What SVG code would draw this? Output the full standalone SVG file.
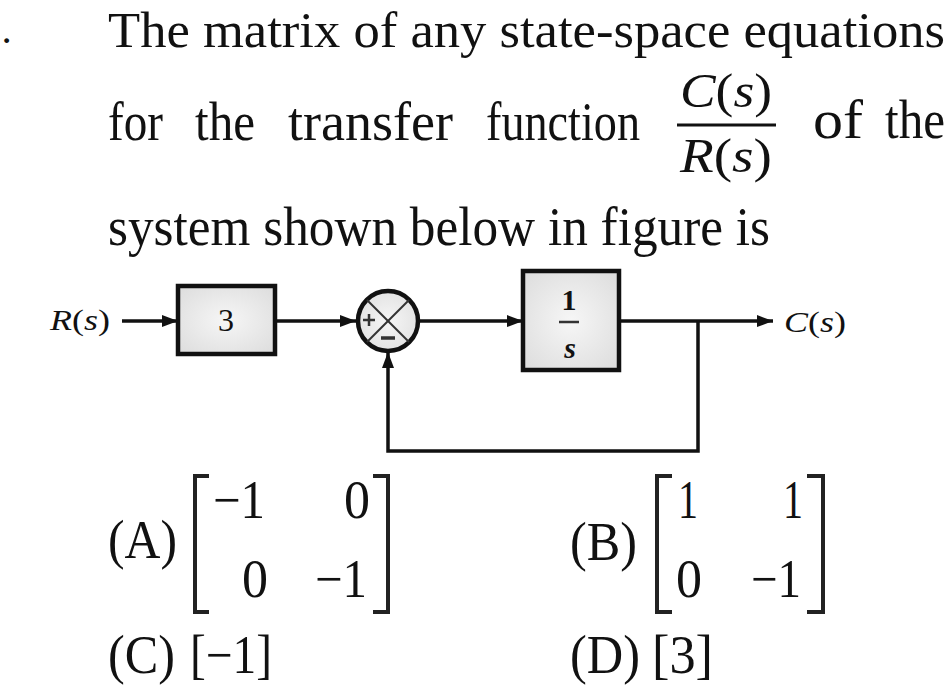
<svg xmlns="http://www.w3.org/2000/svg" width="952" height="688" viewBox="0 0 952 688">
<style>
.t{font-family:"Liberation Serif","Times New Roman",serif;fill:#111}
.q{font-size:54px}
.lbl{font-size:30px}
.it{font-style:italic}
.box{fill:url(#g);stroke:#111;stroke-width:4.5}
.ln{fill:none;stroke:#111;stroke-width:3.5}
.br{fill:none;stroke:#222;stroke-width:4}
</style>
<defs>
<radialGradient id="g" cx="0.5" cy="0.5" r="0.7">
<stop offset="0" stop-color="#f6f6f6"/>
<stop offset="1" stop-color="#dcdcdc"/>
</radialGradient>
<marker id="ah" viewBox="0 0 16 12" refX="16" refY="6" markerWidth="16" markerHeight="12" markerUnits="userSpaceOnUse" orient="auto">
<path d="M0,0 L16,6 L0,12 Z" fill="#111"/>
</marker>
</defs>
<rect width="952" height="688" fill="#fff"/>

<g id="question">
<text class="t" x="4" y="43" font-size="30" font-weight="bold" font-style="italic">.</text>
<text class="t" x="108" y="47" font-size="51" textLength="837" lengthAdjust="spacingAndGlyphs">The matrix of any state-space equations</text>
<text class="t q" x="108" y="140" textLength="55" lengthAdjust="spacingAndGlyphs">for</text>
<text class="t q" x="195" y="140" textLength="60" lengthAdjust="spacingAndGlyphs">the</text>
<text class="t q" x="288" y="140" textLength="165" lengthAdjust="spacingAndGlyphs">transfer</text>
<text class="t q" x="486" y="140" textLength="154" lengthAdjust="spacingAndGlyphs">function</text>
<text class="t" x="680" y="107" font-size="48" textLength="92" lengthAdjust="spacingAndGlyphs"><tspan class="it">C</tspan>(<tspan class="it">s</tspan>)</text>
<line x1="677" y1="125" x2="776" y2="125" stroke="#111" stroke-width="3"/>
<text class="t" x="680" y="172" font-size="48" textLength="92" lengthAdjust="spacingAndGlyphs"><tspan class="it">R</tspan>(<tspan class="it">s</tspan>)</text>
<text class="t q" x="813" y="138" textLength="50" lengthAdjust="spacingAndGlyphs">of</text>
<text class="t q" x="885" y="138" textLength="60" lengthAdjust="spacingAndGlyphs">the</text>
<text class="t q" x="108" y="245" textLength="662" lengthAdjust="spacingAndGlyphs">system shown below in figure is</text>
</g>

<g id="connectors">
<line class="ln" x1="122" y1="321" x2="178" y2="321" marker-end="url(#ah)"/>
<line class="ln" x1="275" y1="321" x2="356" y2="321" marker-end="url(#ah)"/>
<line class="ln" x1="420" y1="321" x2="523" y2="321" marker-end="url(#ah)"/>
<line class="ln" x1="619" y1="321" x2="773" y2="321" marker-end="url(#ah)"/>
<polyline class="ln" points="698,321 698,451 388,451 388,352" marker-end="url(#ah)"/>
</g>

<g id="input">
<text class="t lbl" x="50" y="330" textLength="60" lengthAdjust="spacingAndGlyphs"><tspan class="it">R</tspan>(<tspan class="it">s</tspan>)</text>
</g>

<g id="gain">
<rect class="box" x="178" y="286" width="97" height="68"/>
<text class="t" x="226" y="331" font-size="32" text-anchor="middle">3</text>
</g>

<g id="sum">
<circle cx="388" cy="321" r="30" fill="url(#g)" stroke="#111" stroke-width="4.5"/>
<line x1="367" y1="300" x2="409" y2="342" stroke="#333" stroke-width="2"/>
<line x1="409" y1="300" x2="367" y2="342" stroke="#333" stroke-width="2"/>
<line x1="363" y1="320" x2="375" y2="320" stroke="#333" stroke-width="2.5"/>
<line x1="369" y1="314" x2="369" y2="326" stroke="#333" stroke-width="2.5"/>
<line x1="381" y1="338" x2="395" y2="338" stroke="#333" stroke-width="3.5"/>
</g>

<g id="integrator">
<rect class="box" x="523" y="271" width="96" height="99"/>
<text class="t" x="569" y="310" font-size="30" font-weight="bold" text-anchor="middle">1</text>
<line x1="559" y1="322" x2="579" y2="322" stroke="#333" stroke-width="2.5"/>
<text class="t it" x="570" y="358" font-size="30" font-weight="bold" text-anchor="middle">s</text>
</g>

<g id="output">
<text class="t lbl" x="784" y="332" textLength="62" lengthAdjust="spacingAndGlyphs"><tspan class="it">C</tspan>(<tspan class="it">s</tspan>)</text>
</g>

<g id="options">
<text class="t q" x="108" y="558" textLength="69" lengthAdjust="spacingAndGlyphs">(A)</text>
<path class="br" d="M209,476 H195 V612 H209"/>
<path class="br" d="M373,476 H388 V612 H373"/>
<text class="t q" x="213" y="518" textLength="52" lengthAdjust="spacingAndGlyphs">−1</text>
<text class="t q" x="344" y="518" textLength="26" lengthAdjust="spacingAndGlyphs">0</text>
<text class="t q" x="242" y="597" textLength="26" lengthAdjust="spacingAndGlyphs">0</text>
<text class="t q" x="315" y="597" textLength="52" lengthAdjust="spacingAndGlyphs">−1</text>

<text class="t q" x="570" y="560" textLength="67" lengthAdjust="spacingAndGlyphs">(B)</text>
<path class="br" d="M672,476 H657 V612 H672"/>
<path class="br" d="M807,476 H823 V612 H807"/>
<text class="t q" x="678" y="518" textLength="20" lengthAdjust="spacingAndGlyphs">1</text>
<text class="t q" x="783" y="518" textLength="20" lengthAdjust="spacingAndGlyphs">1</text>
<text class="t q" x="676" y="597" textLength="26" lengthAdjust="spacingAndGlyphs">0</text>
<text class="t q" x="751" y="597" textLength="50" lengthAdjust="spacingAndGlyphs">−1</text>

<text class="t q" x="108" y="673" textLength="67" lengthAdjust="spacingAndGlyphs">(C)</text>
<text class="t q" x="190" y="673" textLength="82" lengthAdjust="spacingAndGlyphs">[−1]</text>
<text class="t q" x="570" y="673" textLength="70" lengthAdjust="spacingAndGlyphs">(D)</text>
<text class="t q" x="652" y="673" textLength="61" lengthAdjust="spacingAndGlyphs">[3]</text>
</g>
</svg>
